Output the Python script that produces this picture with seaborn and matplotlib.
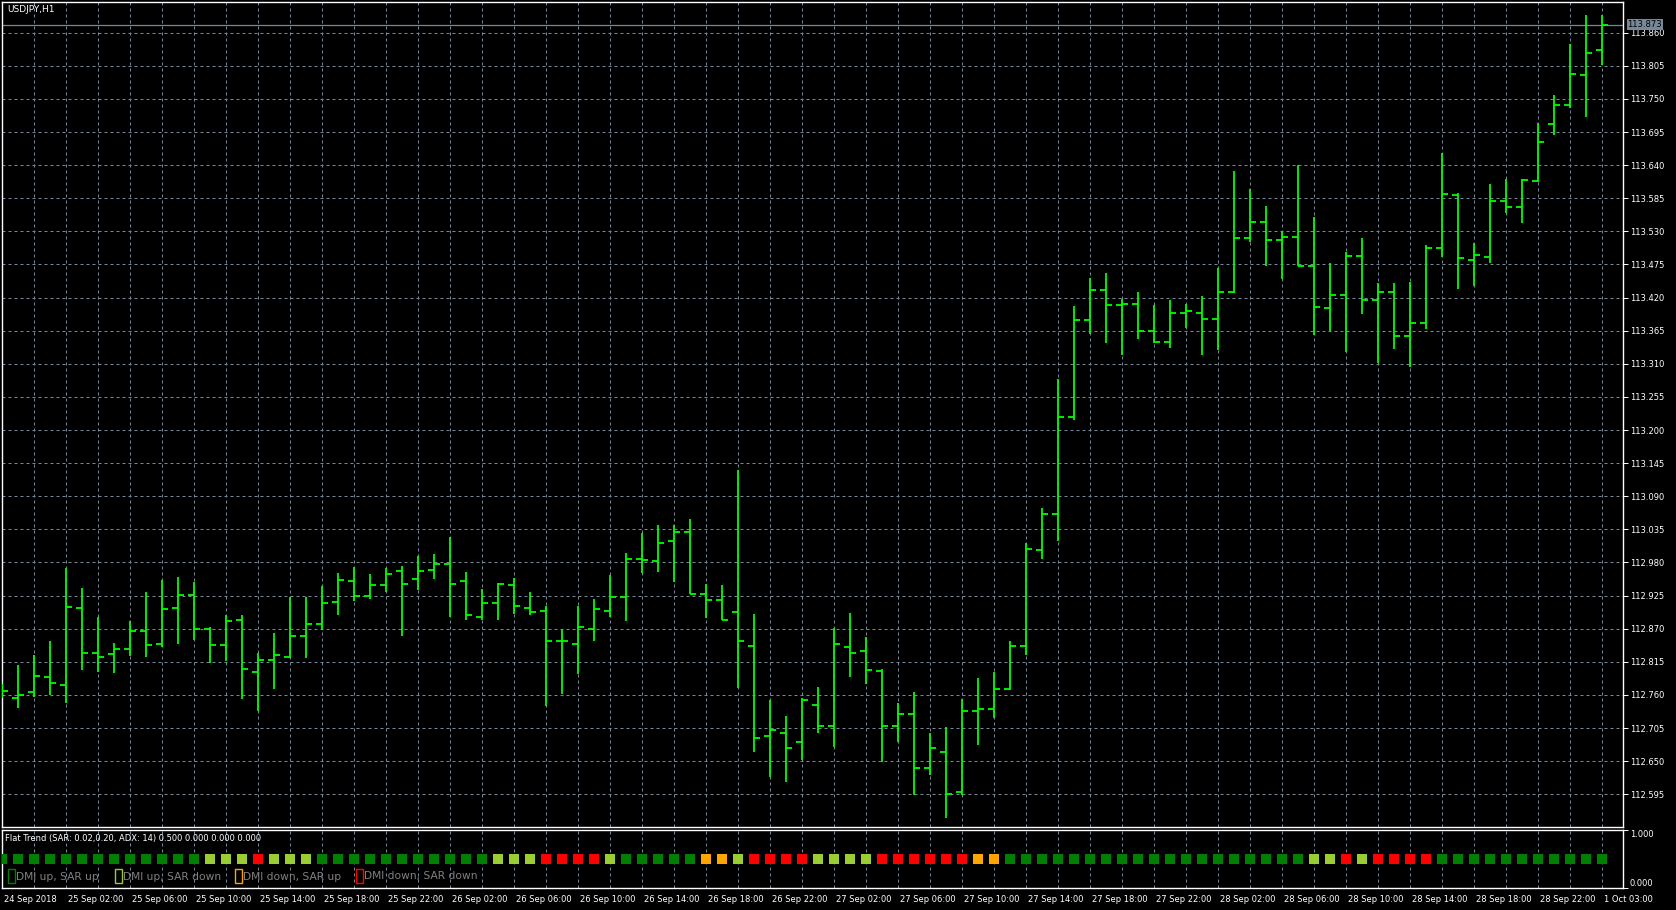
import numpy as np
import seaborn as sns
import matplotlib.pyplot as plt
from matplotlib.patches import Rectangle
from matplotlib.transforms import ScaledTranslation, blended_transform_factory

# USDJPY H1 bars, 24 Sep 2018 22:00 -> 1 Oct 03:00
opens = [
    112.770, 112.755, 112.765, 112.790, 112.777, 112.905, 112.830, 112.828, 112.837, 112.867,
    112.845, 112.905, 112.926, 112.870, 112.843, 112.885, 112.798, 112.818, 112.823, 112.858,
    112.877, 112.915, 112.950, 112.925, 112.943, 112.966, 112.953, 112.967, 112.978, 112.950,
    112.890, 112.912, 112.943, 112.905, 112.900, 112.850, 112.844, 112.870, 112.900, 112.922,
    112.985, 112.982, 113.015, 113.030, 112.927, 112.917, 112.897, 112.842, 112.692, 112.696,
    112.681, 112.743, 112.709, 112.840, 112.833, 112.799, 112.709, 112.729, 112.639, 112.666,
    112.598, 112.734, 112.737, 112.770, 112.842, 113.001, 113.061, 113.222, 113.382, 113.433,
    113.407, 113.409, 113.365, 113.347, 113.394, 113.395, 113.385, 113.429, 113.519, 113.546,
    113.516, 113.521, 113.473, 113.403, 113.425, 113.489, 113.416, 113.429, 113.356, 113.378,
    113.502, 113.590, 113.483, 113.487, 113.580, 113.570, 113.613, 113.708, 113.740, 113.790,
    113.831]
highs = [
    112.778, 112.809, 112.826, 112.849, 112.971, 112.937, 112.889, 112.846, 112.883, 112.931,
    112.951, 112.956, 112.947, 112.872, 112.893, 112.893, 112.829, 112.863, 112.923, 112.923,
    112.941, 112.962, 112.972, 112.961, 112.971, 112.974, 112.991, 112.994, 113.023, 112.964,
    112.936, 112.946, 112.954, 112.931, 112.908, 112.870, 112.907, 112.920, 112.960, 112.996,
    113.029, 113.043, 113.043, 113.052, 112.944, 112.943, 113.133, 112.894, 112.752, 112.725,
    112.755, 112.773, 112.871, 112.896, 112.856, 112.803, 112.746, 112.765, 112.697, 112.706,
    112.753, 112.788, 112.798, 112.850, 113.013, 113.070, 113.285, 113.406, 113.452, 113.461,
    113.418, 113.430, 113.408, 113.416, 113.410, 113.423, 113.469, 113.631, 113.601, 113.572,
    113.531, 113.640, 113.554, 113.477, 113.495, 113.519, 113.444, 113.444, 113.446, 113.507,
    113.660, 113.594, 113.510, 113.609, 113.617, 113.617, 113.710, 113.756, 113.841, 113.890,
    113.890]
lows = [
    112.755, 112.739, 112.757, 112.760, 112.747, 112.802, 112.798, 112.797, 112.825, 112.823,
    112.840, 112.845, 112.852, 112.813, 112.816, 112.754, 112.734, 112.770, 112.822, 112.822,
    112.868, 112.892, 112.916, 112.920, 112.931, 112.858, 112.935, 112.952, 112.889, 112.885,
    112.884, 112.884, 112.895, 112.893, 112.742, 112.762, 112.795, 112.849, 112.890, 112.882,
    112.962, 112.965, 112.948, 112.928, 112.887, 112.884, 112.771, 112.666, 112.624, 112.616,
    112.652, 112.697, 112.673, 112.790, 112.778, 112.649, 112.681, 112.594, 112.627, 112.556,
    112.593, 112.677, 112.721, 112.768, 112.827, 112.985, 113.016, 113.217, 113.359, 113.344,
    113.325, 113.352, 113.344, 113.336, 113.369, 113.324, 113.333, 113.428, 113.513, 113.473,
    113.451, 113.473, 113.358, 113.364, 113.330, 113.393, 113.312, 113.335, 113.305, 113.368,
    113.487, 113.435, 113.440, 113.478, 113.560, 113.544, 113.612, 113.690, 113.735, 113.720,
    113.807]
closes = [
    112.767, 112.760, 112.792, 112.779, 112.906, 112.830, 112.823, 112.837, 112.867, 112.843,
    112.903, 112.926, 112.870, 112.843, 112.883, 112.803, 112.818, 112.827, 112.858, 112.878,
    112.913, 112.951, 112.925, 112.943, 112.961, 112.945, 112.966, 112.977, 112.945, 112.892,
    112.912, 112.945, 112.907, 112.898, 112.850, 112.849, 112.872, 112.902, 112.922, 112.985,
    112.984, 113.013, 113.031, 112.928, 112.917, 112.885, 112.849, 112.689, 112.701, 112.672,
    112.751, 112.709, 112.845, 112.830, 112.802, 112.709, 112.729, 112.638, 112.671, 112.596,
    112.734, 112.737, 112.770, 112.842, 113.003, 113.061, 113.222, 113.382, 113.433, 113.407,
    113.410, 113.365, 113.346, 113.395, 113.397, 113.385, 113.429, 113.519, 113.546, 113.516,
    113.521, 113.473, 113.405, 113.425, 113.489, 113.416, 113.429, 113.356, 113.378, 113.502,
    113.592, 113.485, 113.490, 113.580, 113.570, 113.615, 113.678, 113.740, 113.791, 113.826,
    113.873]
last_price = 113.873

# Flat Trend state per bar  G: DMI up/SAR up, Y: DMI up/SAR down, O: DMI down/SAR up, R: DMI down/SAR down
trend_codes = ("GGGGGGGGGGGGG" "YYY" "R" "YYY" "GGGGGGGGGGG" "YYY" "RRRR" "Y" "GGGGG" "OO" "Y"
               "RRRR" "YYYY" "RRRRRR" "OO" "GGGGGGGGGGGGGGGGGGG" "YY" "R" "Y" "RRRR" "GGGGGGGGGGG")
trend_value = 0.5

price_levels = [112.595, 112.650, 112.705, 112.760, 112.815, 112.870, 112.925, 112.980,
                113.035, 113.090, 113.145, 113.200, 113.255, 113.310, 113.365, 113.420,
                113.475, 113.530, 113.585, 113.640, 113.695, 113.750, 113.805, 113.860]
time_labels = ["24 Sep 2018", "25 Sep 02:00", "25 Sep 06:00", "25 Sep 10:00", "25 Sep 14:00",
               "25 Sep 18:00", "25 Sep 22:00", "26 Sep 02:00", "26 Sep 06:00", "26 Sep 10:00",
               "26 Sep 14:00", "26 Sep 18:00", "26 Sep 22:00", "27 Sep 02:00", "27 Sep 06:00",
               "27 Sep 10:00", "27 Sep 14:00", "27 Sep 18:00", "27 Sep 22:00", "28 Sep 02:00",
               "28 Sep 06:00", "28 Sep 10:00", "28 Sep 14:00", "28 Sep 18:00", "28 Sep 22:00",
               "1 Oct 03:00"]
legend_names = ["DMI up, SAR up", "DMI up, SAR down", "DMI down, SAR up", "DMI down, SAR down"]

state_pal = {"G": "#008000", "Y": "#9ACD32", "O": "#FFA500", "R": "#FF0000"}
grid_col = "#778899"
bar_col = "#00FF00"

sns.set_style("dark", rc={"axes.facecolor": "black", "figure.facecolor": "black",
                          "axes.edgecolor": "white", "text.color": "white",
                          "xtick.color": "white", "ytick.color": "white",
                          "grid.color": grid_col})

W, H = 1676, 910
def px_box(x0, y0, x1, y1):
    return [x0 / W, 1 - y1 / H, (x1 - x0) / W, (y1 - y0) / H]

fig = plt.figure(figsize=(W / 100, H / 100), dpi=100)
ax = fig.add_axes(px_box(2, 2, 1623, 827))
ax2 = fig.add_axes(px_box(2, 830, 1623, 888))

x = np.arange(len(opens))
xmax = 1621 / 16

# OHLC bars
ax.vlines(x, lows, highs, color=bar_col, lw=1.3, zorder=3)
ax.hlines(opens, x - 0.375, x, color=bar_col, lw=1.3, zorder=3)
ax.hlines(closes, x, x + 0.375, color=bar_col, lw=1.3, zorder=3)
ax.axhline(last_price, color=grid_col, lw=0.9, zorder=2)

ax.set_xlim(0, xmax)
ax.set_ylim(112.5406, 113.911)
ax.set_xticks(np.arange(0, 102, 4))
ax.set_xticks(np.arange(2, 102, 4), minor=True)
ax.set_yticks(price_levels)
ax.set_yticklabels([f"{p:.3f}" for p in price_levels])
ax.yaxis.tick_right()
ax.tick_params(axis="x", which="both", length=0, labelbottom=False)
ax.tick_params(axis="y", length=3.6, width=0.7, labelsize=6, pad=1.2, colors="white")
ax.grid(True, which="both", color=grid_col, lw=0.72, linestyle=(0, (3, 3)))
ax.set_axisbelow(True)
for s in ax.spines.values():
    s.set_color("white")
    s.set_linewidth(1.0)

ax.text(5 / 1621, (827 - 9) / 825, "USDJPY,H1", transform=ax.transAxes,
        fontsize=6.5, color="white", va="center", ha="left")
tr = blended_transform_factory(ax.transAxes, ax.transData)
ax.text(1.0028, last_price, f"{last_price:.3f}", transform=tr, ha="left", va="center",
        fontsize=6, color="black", clip_on=False, zorder=10,
        bbox=dict(boxstyle="square,pad=0.12", fc=grid_col, ec="none"))

# indicator panel
sns.scatterplot(x=x, y=[trend_value] * len(x), hue=list(trend_codes), palette=state_pal,
                marker="s", s=57, linewidth=0, legend=False, ax=ax2, zorder=3)
ax2.set_xlim(0, xmax)
ax2.set_ylim(0, 1)
ax2.set_xticks(np.arange(0, 101, 4))
ax2.set_xticks(np.arange(2, 102, 4), minor=True)
ax2.set_xticklabels(time_labels, fontsize=6, ha="left")
ax2.tick_params(axis="x", which="major", length=3, width=0.7, pad=1.8, colors="white")
ax2.tick_params(axis="x", which="minor", length=0)
for lab in ax2.get_xticklabels():
    lab.set_transform(lab.get_transform() + ScaledTranslation(1.5 / 100, 0, fig.dpi_scale_trans))
ax2.yaxis.tick_right()
ax2.set_yticks([0, 1])
ax2.set_yticklabels(["0.000", "1.000"])
ax2.tick_params(axis="y", length=3.6, width=0.7, labelsize=6, pad=1.2, colors="white")
ylabs = ax2.get_yticklabels()
ylabs[0].set_va("bottom")
ylabs[1].set_va("top")
ax2.set_xlabel("")
ax2.set_ylabel("")
ax2.grid(True, axis="x", which="both", color=grid_col, lw=0.72, linestyle=(0, (3, 3)))
ax2.grid(False, axis="y")
ax2.set_axisbelow(True)
for s in ax2.spines.values():
    s.set_color("white")
    s.set_linewidth(1.0)

ax2.text(3 / 1621, (888 - 838) / 58, "Flat Trend (SAR: 0.02,0.20, ADX: 14) 0.500 0.000 0.000 0.000",
         transform=ax2.transAxes, fontsize=6, color="white", va="center", ha="left")

# legend boxes
leg_rect_px = [8, 115, 235, 356]
for name, code, rx in zip(legend_names, "GYOR", leg_rect_px):
    ax2.add_patch(Rectangle(((rx - 2) / 1621, (888 - 883) / 58), 7 / 1621, 14 / 58,
                            transform=ax2.transAxes, fill=False, ec=state_pal[code], lw=1.0,
                            clip_on=False, zorder=4))
    ax2.text((rx + 8 - 2) / 1621, (888 - 876.5) / 58, name, transform=ax2.transAxes,
             fontsize=7.7, color="#808080", va="center", ha="left", zorder=4)

fig.savefig("out.png", dpi=100, facecolor="black")
